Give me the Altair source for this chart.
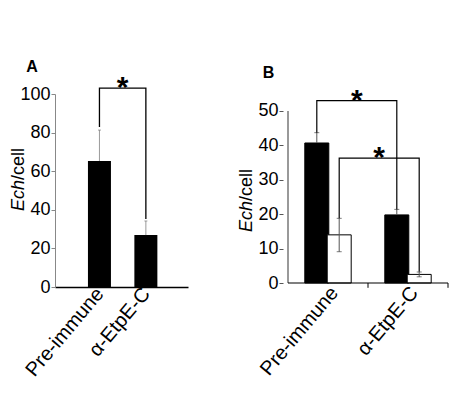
import json
import altair as alt
import pandas as pd

FONT = "Liberation Sans"

# ---------------- data ----------------
categories = ["Pre-immune", "α-EtpE-C"]

# Panel A
a_values = [65.3, 26.9]
a_err_hi = [81.3, 34.2]
a_br_start = [82.9]
a_br_top = [103.0]
a_br_end = [35.2]

# Panel B (filled = black bars, open = white bars)
b_series = ["filled", "open"]
b_filled = [40.7, 19.8]
b_filled_hi = [43.7, 21.4]
b_open = [14.0, 2.5]
b_open_lo = [9.1, 1.8]
b_open_hi = [18.8, 3.2]
b_br_series = ["filled", "open"]
b_br_start = [43.7, 18.8]
b_br_top = [53.0, 36.3]
b_br_end = [21.4, 3.3]

a_yticks = [0, 20, 40, 60, 80, 100]
b_yticks = [0, 10, 20, 30, 40, 50]

# ---------------- helpers ----------------
label_expr = f"{json.dumps(categories, ensure_ascii=False)}[datum.value - 1]"
positions = [i + 1 for i in range(len(categories))]
XLAB = 20
YLAB = 18


def bracket_frame(x_from, x_to, start, top, end):
    rows, stars = [], []
    for k in range(len(start)):
        pts = [(x_from[k], start[k]), (x_from[k], top[k]), (x_to[k], top[k]), (x_to[k], end[k])]
        for s, (x, y) in enumerate(pts):
            rows.append({"id": k, "seq": s, "x": x, "y": y})
        stars.append({"x": (x_from[k] + x_to[k]) / 2, "y": top[k], "t": "*"})
    return pd.DataFrame(rows), pd.DataFrame(stars)


def ytitle(ypix):
    t1 = alt.Chart(pd.DataFrame({"t": ["Ech"]})).mark_text(
        fontStyle="italic", fontSize=18, angle=270, align="right", baseline="middle"
    ).encode(text="t:N", x=alt.value(-36), y=alt.value(ypix))
    t2 = alt.Chart(pd.DataFrame({"t": ["/cell"]})).mark_text(
        fontSize=18, angle=270, align="left", baseline="middle"
    ).encode(text="t:N", x=alt.value(-36), y=alt.value(ypix))
    return t1 + t2


def panel_label(txt, xpix, ypix):
    return alt.Chart(pd.DataFrame({"t": [txt]})).mark_text(
        fontSize=16, fontWeight="bold", align="center", baseline="middle"
    ).encode(text="t:N", x=alt.value(xpix), y=alt.value(ypix))


# ---------------- Panel A ----------------
xA = alt.Scale(domain=[0.15, 2.8], nice=False, zero=False)
yA = alt.Scale(domain=[0, 100], nice=False)

xaxisA = alt.Axis(values=positions, labelExpr=label_expr, title=None, ticks=False,
                  domainColor="black", domainWidth=1.5, labelAngle=-50, labelAlign="right",
                  labelBaseline="middle", labelPadding=3, labelFontSize=XLAB, grid=False,
                  labelOverlap=False, labelFlush=False)
yaxisA = alt.Axis(values=a_yticks, title=None, tickSize=4, tickColor="#888",
                  domainColor="#888", labelPadding=1, labelFontSize=YLAB, grid=False,
                  labelOverlap=False, labelFlush=False)


def XA(f):
    return alt.X(f, scale=xA, axis=xaxisA)


def YA(f):
    return alt.Y(f, scale=yA, axis=yaxisA)


dfA = pd.DataFrame({"cat": categories, "pos": positions, "value": a_values, "hi": a_err_hi})

barsA = alt.Chart(dfA).mark_bar(size=23, color="black").encode(
    x=XA("pos:Q"), y=YA("value:Q"), y2=alt.datum(0))
stemA = alt.Chart(dfA).mark_rule(color="#999", strokeWidth=1).encode(
    x=XA("pos:Q"), y=YA("value:Q"), y2="hi:Q")
capA = alt.Chart(dfA).mark_tick(orient="horizontal", size=3, thickness=1, color="#777").encode(
    x=XA("pos:Q"), y=YA("hi:Q"))

brA, starA = bracket_frame([positions[0]], [positions[1]], a_br_start, a_br_top, a_br_end)
bracketA = alt.Chart(brA).mark_line(color="black", strokeWidth=1.3).encode(
    x=XA("x:Q"), y=YA("y:Q"), detail="id:N", order="seq:Q")
starsA = alt.Chart(starA).mark_text(fontSize=30, fontWeight="bold", baseline="alphabetic", dy=9).encode(
    x=XA("x:Q"), y=YA("y:Q"), text="t:N")

panelA = alt.layer(barsA, stemA, capA, bracketA, starsA, ytitle(86),
                   panel_label("A", -23, -27.5)).properties(width=133, height=193)

# ---------------- Panel B ----------------
xB_dom = [0.5, len(categories) + 0.5]
yB_dom = [-1.16, 54.94]
xB = alt.Scale(domain=xB_dom, nice=False, zero=False)
yB = alt.Scale(domain=yB_dom, nice=False, zero=False)
offset = {"filled": -0.14, "open": 0.14}

xaxisB = alt.Axis(values=positions, labelExpr=label_expr, title=None, ticks=False, domain=False,
                  labelAngle=-50, labelAlign="right", labelBaseline="middle", labelPadding=2,
                  labelOffset=6, labelFontSize=XLAB, grid=False, labelOverlap=False, labelFlush=False)
yaxisB = alt.Axis(values=b_yticks, title=None, tickSize=4, tickColor="#555",
                  domain=False, labelPadding=1, labelFontSize=YLAB, grid=False,
                  labelOverlap=False, labelFlush=False)


def XB(f):
    return alt.X(f, scale=xB, axis=xaxisB)


def YB(f):
    return alt.Y(f, scale=yB, axis=yaxisB)


rows = []
for i, c in enumerate(categories):
    rows.append({"cat": c, "series": "filled", "pos": positions[i] + offset["filled"],
                 "value": b_filled[i], "lo": b_filled[i], "hi": b_filled_hi[i]})
    rows.append({"cat": c, "series": "open", "pos": positions[i] + offset["open"],
                 "value": b_open[i], "lo": b_open_lo[i], "hi": b_open_hi[i]})
dfB = pd.DataFrame(rows)

barsB = alt.Chart(dfB).mark_bar(size=24, stroke="black", strokeWidth=1).encode(
    x=XB("pos:Q"), y=YB("value:Q"), y2=alt.datum(0),
    color=alt.Color("series:N", scale=alt.Scale(domain=b_series, range=["black", "white"]), legend=None),
)
stemB = alt.Chart(dfB).mark_rule(color="#555", strokeWidth=1).encode(
    x=XB("pos:Q"), y=YB("lo:Q"), y2="hi:Q")
capHiB = alt.Chart(dfB).mark_tick(orient="horizontal", size=5, thickness=1, color="#444").encode(
    x=XB("pos:Q"), y=YB("hi:Q"))
capLoB = alt.Chart(dfB[dfB["series"] == "open"]).mark_tick(orient="horizontal", size=5, thickness=1, color="#444").encode(
    x=XB("pos:Q"), y=YB("lo:Q"))

br_from = [positions[0] + offset[s] for s in b_br_series]
br_to = [positions[1] + offset[s] for s in b_br_series]
brB, starB = bracket_frame(br_from, br_to, b_br_start, b_br_top, b_br_end)
bracketB = alt.Chart(brB).mark_line(color="black", strokeWidth=1.2).encode(
    x=XB("x:Q"), y=YB("y:Q"), detail="id:N", order="seq:Q")
starsB = alt.Chart(starB).mark_text(fontSize=30, fontWeight="bold", baseline="alphabetic", dy=9).encode(
    x=XB("x:Q"), y=YB("y:Q"), text="t:N")

# axis lines drawn from the data ranges (y axis 0-50, x axis across the categories)
axis_lines = pd.DataFrame({
    "x": [xB_dom[0], xB_dom[0]], "x2": [xB_dom[0], xB_dom[1]],
    "y": [0, 0], "y2": [b_yticks[-1], 0], "c": ["#555", "black"],
})
axes_B = alt.Chart(axis_lines).mark_rule(strokeWidth=1.2).encode(
    x=XB("x:Q"), x2="x2:Q", y=YB("y:Q"), y2="y2:Q",
    color=alt.Color("c:N", scale=None))
edges = pd.DataFrame({"e": [p + 0.5 for p in positions], "y": [0] * len(positions), "y2": [-1.4] * len(positions)})
xticks = alt.Chart(edges).mark_rule(color="black", strokeWidth=1).encode(
    x=XB("e:Q"), y=YB("y:Q"), y2="y2:Q")

panelB = alt.layer(barsB, stemB, capHiB, capLoB, bracketB, starsB, axes_B, xticks,
                   ytitle(107), panel_label("B", -14.5, -21.5)).properties(width=170, height=193)

chart = alt.hconcat(panelA, panelB, spacing=95, bounds="flush").properties(
    padding={"left": 2, "top": 50, "right": 5, "bottom": 5}
).configure_view(stroke=None).configure_axis(
    labelFont=FONT, labelColor="black"
).configure_text(font=FONT, color="black")

chart.save("out.html", embed_options={"renderer": "svg", "actions": False})
